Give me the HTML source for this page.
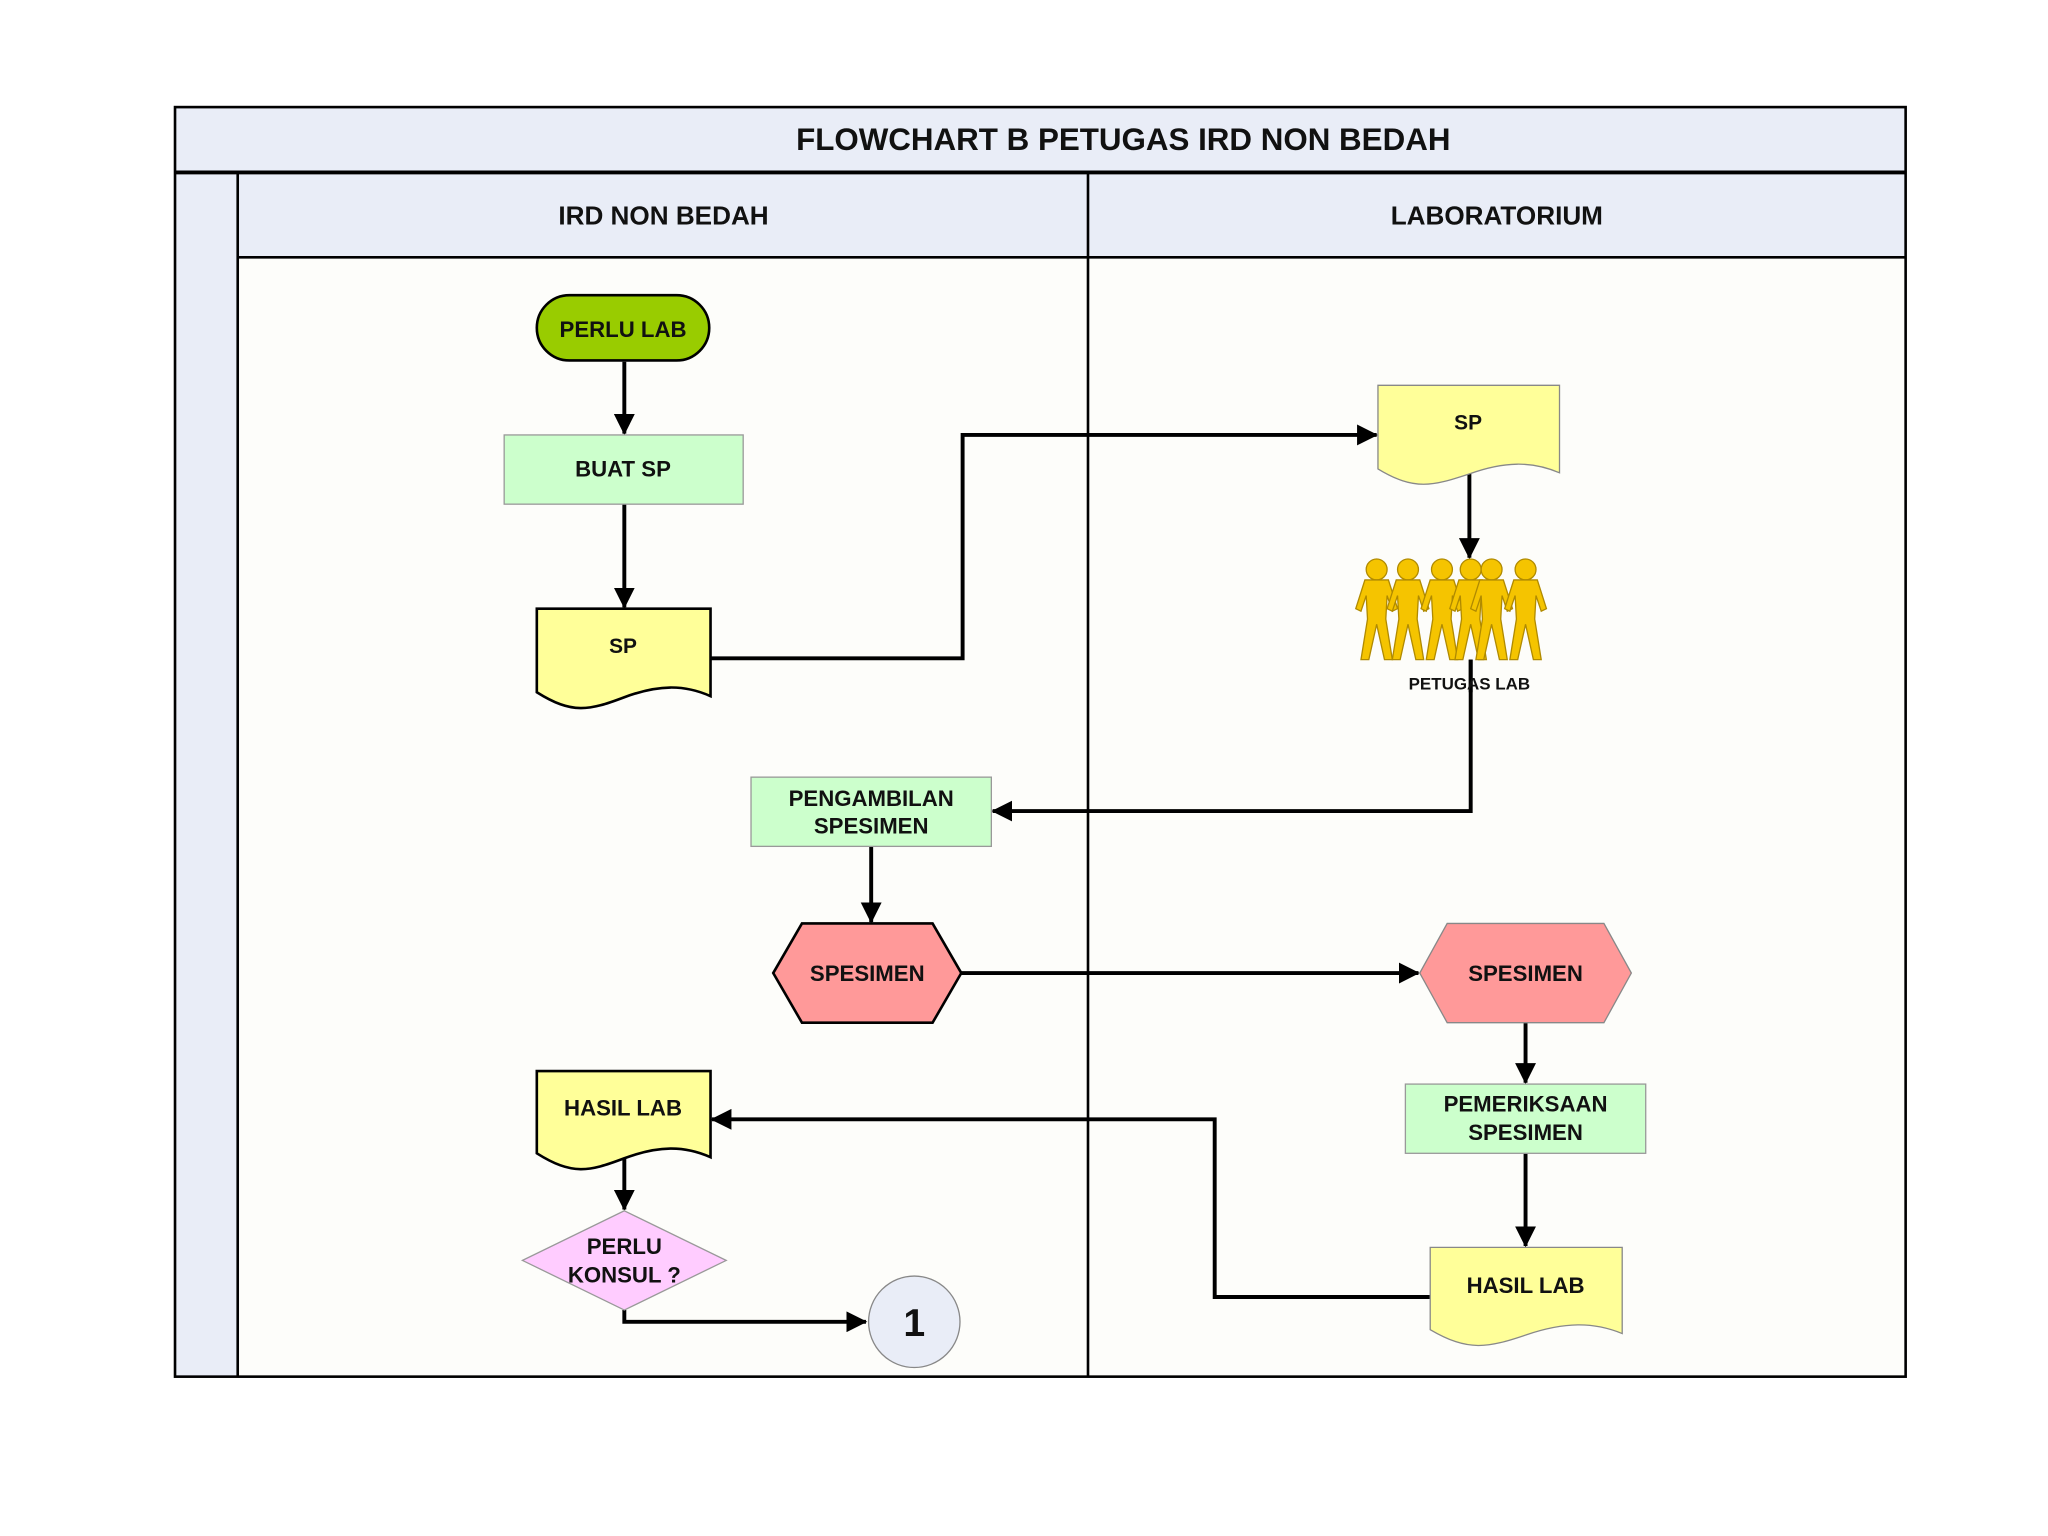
<!DOCTYPE html>
<html><head><meta charset="utf-8"><style>
html,body{margin:0;padding:0;background:#fff;width:2048px;height:1536px;overflow:hidden}
svg{display:block}
text{font-family:"Liberation Sans",Arial,sans-serif;font-weight:bold;fill:#111;text-anchor:middle}
</style></head><body>
<svg width="2048" height="1536" viewBox="0 0 1568 1176" xmlns="http://www.w3.org/2000/svg">
<defs>
<marker id="a" markerWidth="10" markerHeight="10" refX="9" refY="5" orient="auto" markerUnits="userSpaceOnUse" viewBox="0 0 10 10">
<path d="M0,0 L10,5 L0,10 Z" fill="#000"/></marker>
<marker id="b" markerWidth="16" markerHeight="16" refX="15" refY="8" orient="auto" markerUnits="userSpaceOnUse" viewBox="0 0 16 16">
<path d="M0,0 L16,8 L0,16 Z" fill="#000"/></marker>
<g id="p"><circle cx="0" cy="-8" r="8" fill="#f5c400" stroke="#b08a00" stroke-width="1"/>
<path d="M-9,0 L9,0 L16,22 L12,24 L8,12 L7,30 L12,61 L6,61 L0,34 L-6,61 L-12,61 L-7,30 L-8,12 L-12,24 L-16,22 Z" fill="#f5c400" stroke="#b08a00" stroke-width="1"/></g>
</defs>
<rect x="0" y="0" width="1568" height="1176" fill="#fff"/>
<rect x="134" y="82" width="1325" height="972" fill="#fdfdfa"/>
<rect x="134" y="82" width="1325" height="50" fill="#e9edf7"/>
<rect x="134" y="132" width="48" height="922" fill="#e9edf7"/>
<rect x="182" y="132" width="1277" height="65" fill="#e9edf7"/>
<g stroke="#000" stroke-width="2" fill="none">
<rect x="134" y="82" width="1325" height="972"/>
<line x1="134" y1="132" x2="1459" y2="132" stroke-width="3"/>
<line x1="182" y1="132" x2="182" y2="1054"/>
<line x1="182" y1="197" x2="1459" y2="197"/>
<line x1="833" y1="132" x2="833" y2="1054"/>
</g>
<text x="860" y="115" font-size="24">FLOWCHART B PETUGAS IRD NON BEDAH</text>
<text x="508" y="172" font-size="20">IRD NON BEDAH</text>
<text x="1146" y="172" font-size="20">LABORATORIUM</text>

<!-- connectors -->
<g stroke="#000" stroke-width="3" fill="none">
<line x1="478" y1="277" x2="478" y2="332" marker-end="url(#b)"/>
<line x1="478" y1="386" x2="478" y2="465" marker-end="url(#b)"/>
<polyline points="544,504 737,504 737,333 1054,333" marker-end="url(#b)"/>
<line x1="1125" y1="362" x2="1125" y2="427" marker-end="url(#b)"/>
<polyline points="1126,505 1126,621 760,621" marker-end="url(#b)"/>
<line x1="667" y1="648" x2="667" y2="706" marker-end="url(#b)"/>
<line x1="736" y1="745" x2="1086" y2="745" marker-end="url(#b)"/>
<line x1="1168" y1="783" x2="1168" y2="829" marker-end="url(#b)"/>
<line x1="1168" y1="883" x2="1168" y2="954" marker-end="url(#b)"/>
<polyline points="1095,993 930,993 930,857 545,857" marker-end="url(#b)"/>
<line x1="478" y1="887" x2="478" y2="926" marker-end="url(#b)"/>
<polyline points="478,1003 478,1012 663,1012" marker-end="url(#b)"/>
</g>

<!-- shapes -->
<rect x="411" y="226" width="132" height="50" rx="25" fill="#99cc00" stroke="#000" stroke-width="2"/>
<text x="477" y="258" font-size="17">PERLU LAB</text>
<rect x="386" y="333" width="183" height="53" fill="#ccffcc" stroke="#999" stroke-width="1"/>
<text x="477" y="365" font-size="17">BUAT SP</text>

<path d="M411,466 L544,466 L544,533 C524,524 504,524 477.5,534 C451,544 438,547 411,530 Z" fill="#ffff99" stroke="#000" stroke-width="2"/>
<text x="477" y="500" font-size="16">SP</text>
<path d="M1055,295 L1194,295 L1194,362 C1173,353 1152,353 1124.5,363 C1097,372 1083,376 1055,359 Z" fill="#ffff99" stroke="#888" stroke-width="1"/>
<text x="1124" y="329" font-size="16">SP</text>

<use href="#p" x="1054" y="444"/><use href="#p" x="1078" y="444"/><use href="#p" x="1104" y="444"/>
<use href="#p" x="1126" y="444"/><use href="#p" x="1142" y="444"/><use href="#p" x="1168" y="444"/>
<line x1="1126" y1="505" x2="1126" y2="530" stroke="#000" stroke-width="3"/>
<text x="1125" y="528" font-size="13">PETUGAS LAB</text>

<rect x="575" y="595" width="184" height="53" fill="#ccffcc" stroke="#999" stroke-width="1"/>
<text x="667" y="617" font-size="17">PENGAMBILAN</text>
<text x="667" y="638" font-size="17">SPESIMEN</text>

<polygon points="614,707 714,707 736,745 714,783 614,783 592,745" fill="#ff9999" stroke="#000" stroke-width="2"/>
<text x="664" y="751" font-size="17">SPESIMEN</text>
<polygon points="1108,707 1228,707 1249,745 1228,783 1108,783 1087,745" fill="#ff9999" stroke="#888" stroke-width="1"/>
<text x="1168" y="751" font-size="17">SPESIMEN</text>

<rect x="1076" y="830" width="184" height="53" fill="#ccffcc" stroke="#999" stroke-width="1"/>
<text x="1168" y="851" font-size="17">PEMERIKSAAN</text>
<text x="1168" y="873" font-size="17">SPESIMEN</text>

<path d="M1095,955 L1242,955 L1242,1021 C1220,1012 1198,1012 1168.5,1022 C1139,1032 1124,1035 1095,1018 Z" fill="#ffff99" stroke="#888" stroke-width="1"/>
<text x="1168" y="990" font-size="17">HASIL LAB</text>

<path d="M411,820 L544,820 L544,886 C524,877 504,877 477.5,887 C451,897 438,900 411,883 Z" fill="#ffff99" stroke="#000" stroke-width="2"/>
<text x="477" y="854" font-size="17">HASIL LAB</text>

<polygon points="478,927 556,965 478,1003 400,965" fill="#ffccff" stroke="#999" stroke-width="1"/>
<text x="478" y="960" font-size="17">PERLU</text>
<text x="478" y="982" font-size="17">KONSUL ?</text>

<circle cx="700" cy="1012" r="35" fill="#e9edf7" stroke="#888" stroke-width="1"/>
<text x="700" y="1023" font-size="30" font-weight="normal">1</text>
</svg>
</body></html>
